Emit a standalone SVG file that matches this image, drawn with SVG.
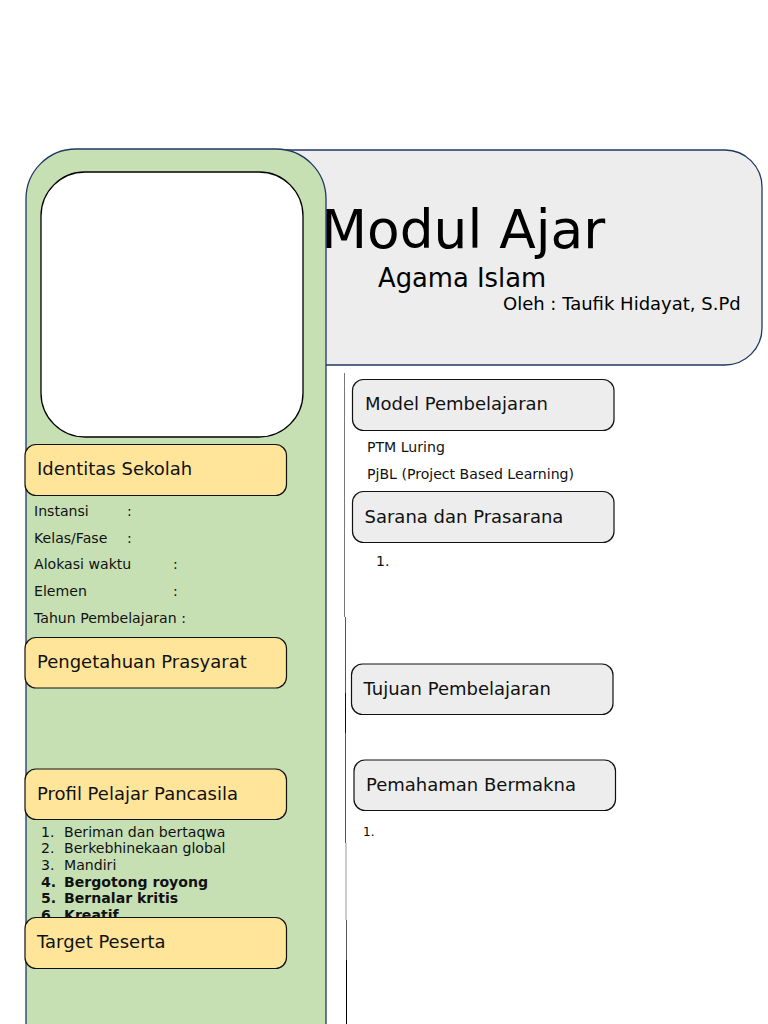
<svg xmlns="http://www.w3.org/2000/svg" width="768" height="1024" viewBox="0 0 768 1024">
<style>
text{font-family:"DejaVu Sans",sans-serif;fill:#000}
.g{fill:#ededed;stroke:#111;stroke-width:1.2}
.y{fill:#ffe599;stroke:#111;stroke-width:1.2}
.h{font-size:18px;fill:#111}
.s{font-size:14.1px;fill:#111}
.b{font-weight:bold}
.d{fill:none;stroke-width:1}
</style>
<rect width="768" height="1024" fill="#fff"/>
<g id="header"><rect x="240" y="150" width="522" height="215" rx="37" fill="#ededed" stroke="#1f3864" stroke-width="1.3"/></g>
<g id="title">
<text x="321" y="248" font-size="53.4">Modul Ajar</text>
<text x="378" y="287" font-size="25.8" fill="#111">Agama Islam</text>
<text x="503" y="310" font-size="18" fill="#111">Oleh : Taufik Hidayat, S.Pd</text>
</g>
<g id="sidebar"><rect x="26" y="149" width="300" height="930" rx="50" fill="#c6e0b4" stroke="#1f3864" stroke-width="1.3"/></g>
<g id="photo"><rect x="41" y="172" width="262" height="265" rx="44" fill="#fff" stroke="#000" stroke-width="1.3"/></g>
<g id="divider">
<path class="d" d="M344.500 373V617" stroke="#777"/>
<path class="d" d="M345.500 617V693" stroke="#555"/>
<path class="d" d="M345.500 693V733" stroke="#111"/>
<path class="d" d="M345.500 733V843" stroke="#555"/>
<path class="d" d="M346 843V920" stroke="#999"/>
<path class="d" d="M346.500 920V960" stroke="#555"/>
<path class="d" d="M346.500 960V1024" stroke="#000"/>
</g>
<g id="identitas"><rect class="y" x="25" y="444.500" width="261.500" height="51" rx="11"/><text class="h" x="37" y="475">Identitas Sekolah</text>
<text class="s" x="34" y="516">Instansi</text><text class="s" x="127" y="516">:</text>
<text class="s" x="34" y="542.500">Kelas/Fase</text><text class="s" x="127" y="542.500">:</text>
<text class="s" x="34" y="569">Alokasi waktu</text><text class="s" x="173" y="569">:</text>
<text class="s" x="34" y="596">Elemen</text><text class="s" x="173" y="596">:</text>
<text class="s" x="34" y="622.500">Tahun Pembelajaran :</text></g>
<g id="prasyarat"><rect class="y" x="25" y="637.500" width="261.500" height="50.500" rx="11"/><text class="h" x="37" y="668">Pengetahuan Prasyarat</text></g>
<g id="profil">
<text class="s" x="41" y="836.500">1.</text><text class="s" x="64" y="836.500">Beriman dan bertaqwa</text>
<text class="s" x="41" y="852.500">2.</text><text class="s" x="64" y="852.500">Berkebhinekaan global</text>
<text class="s" x="41" y="870">3.</text><text class="s" x="64" y="870">Mandiri</text>
<text class="s b" x="41" y="887">4.</text><text class="s b" x="64" y="887">Bergotong royong</text>
<text class="s b" x="41" y="903">5.</text><text class="s b" x="64" y="903">Bernalar kritis</text>
<text class="s b" x="41" y="920">6.</text><text class="s b" x="64" y="920">Kreatif</text>
<rect class="y" x="25" y="769" width="261.500" height="50.500" rx="11"/><text class="h" x="37" y="799.500">Profil Pelajar Pancasila</text>
</g>
<g id="target"><rect class="y" x="25" y="917.500" width="261.500" height="51" rx="11"/><text class="h" x="37" y="948">Target Peserta</text></g>
<g id="model"><rect class="g" x="352.500" y="379.500" width="261.500" height="51" rx="11"/><text class="h" x="365" y="410">Model Pembelajaran</text>
<text class="s" x="367" y="452">PTM Luring</text><text class="s" x="367" y="479">PjBL (Project Based Learning)</text></g>
<g id="sarana"><rect class="g" x="352.500" y="491.500" width="261.500" height="51" rx="11"/><text class="h" x="364.500" y="522.500">Sarana dan Prasarana</text><text class="s" x="376" y="566">1.</text></g>
<g id="tujuan"><rect class="g" x="351.500" y="664" width="261.500" height="50.500" rx="11"/><text class="h" x="363.500" y="694.500">Tujuan Pembelajaran</text></g>
<g id="pemahaman"><rect class="g" x="354" y="760" width="261.500" height="50.500" rx="11"/><text class="h" x="366" y="790.500">Pemahaman Bermakna</text><text x="363" y="835.500" font-size="12" fill="#333">1.</text></g>
</svg>
